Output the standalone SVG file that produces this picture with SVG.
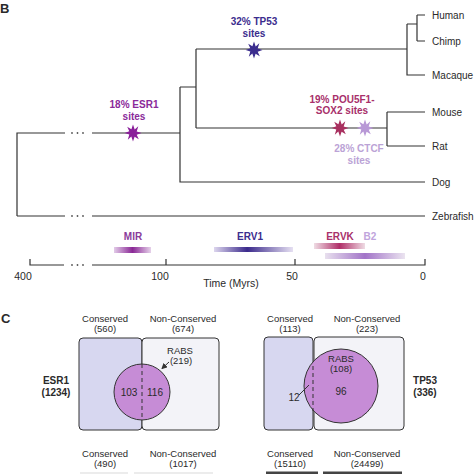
<svg xmlns="http://www.w3.org/2000/svg" width="474" height="474" viewBox="0 0 474 474">
<style>
text{font-family:"Liberation Sans",Arial,sans-serif;font-size:10px;fill:#2a2a2a}
.b{font-weight:bold}
.c{text-anchor:middle}
.s{font-size:9.5px}
.ln{stroke:#333;stroke-width:1.2;fill:none}
.dot{fill:#555}
.box{stroke:#333;stroke-width:1}
</style>
<defs>
<polygon id="star" points="0,-8.5 1.7,-3.6 5.3,-6.8 3.7,-1.6 8.5,0 3.7,1.7 5.8,6.2 1.6,3.7 0,8.5 -1.7,3.6 -5.2,6.8 -3.7,1.6 -8.3,0 -3.7,-1.7 -5.8,-6.2 -1.6,-3.7"/>
<linearGradient id="gMIR"><stop offset="0" stop-color="#e2cbe8"/><stop offset="0.5" stop-color="#8a2896"/><stop offset="1" stop-color="#e6d2ea"/></linearGradient>
<linearGradient id="gERV1"><stop offset="0" stop-color="#ddd6ee"/><stop offset="0.42" stop-color="#3b2a8c"/><stop offset="1" stop-color="#e6e0f2"/></linearGradient>
<linearGradient id="gERVK"><stop offset="0" stop-color="#efdce4"/><stop offset="0.5" stop-color="#b02f68"/><stop offset="1" stop-color="#efdce4"/></linearGradient>
<linearGradient id="gB2"><stop offset="0" stop-color="#e8e0ee"/><stop offset="0.5" stop-color="#a274c8"/><stop offset="1" stop-color="#ebe4f0"/></linearGradient>
<marker id="ah" markerWidth="6" markerHeight="6" refX="5" refY="3" orient="auto" markerUnits="userSpaceOnUse"><path d="M0,0 L6,3 L0,6 z" fill="#333"/></marker>
</defs>

<text x="0" y="13" class="b" style="font-size:13px">B</text>

<g id="connectors">
<path class="ln" d="M17,216 V133 H65 M92,133 H180 M180,87 V182 H425 M180,87 H196 M196,49 V128 M196,49 H407 M407,24 V75 H425 M407,24 H417 M417,15 V41 M417,15 H425 M417,41 H425 M196,128 H387 M387,112 V146 M387,112 H425 M387,146 H425 M17,216 H65 M92,216 H425"/>
</g>
<g id="dots-root"><circle class="dot" cx="72" cy="133" r="0.9"/><circle class="dot" cx="77.5" cy="133" r="0.9"/><circle class="dot" cx="83" cy="133" r="0.9"/></g>
<g id="dots-zebra"><circle class="dot" cx="72" cy="216" r="0.9"/><circle class="dot" cx="77.5" cy="216" r="0.9"/><circle class="dot" cx="83" cy="216" r="0.9"/></g>

<g id="species">
<text x="432" y="19">Human</text>
<text x="432" y="45">Chimp</text>
<text x="432" y="79">Macaque</text>
<text x="432" y="116">Mouse</text>
<text x="432" y="150">Rat</text>
<text x="432" y="186">Dog</text>
<text x="432" y="220">Zebrafish</text>
</g>

<g id="esr1-star"><use href="#star" x="133" y="133" fill="#8a1f9a"/>
<text x="134" y="108" class="b c" style="fill:#8a2a9a">18% ESR1</text><text x="134" y="120" class="b c" style="fill:#8a2a9a">sites</text></g>
<g id="tp53-star"><use href="#star" x="254" y="50" fill="#3b2d8e"/>
<text x="254" y="25" class="b c" style="fill:#3b2d8e">32% TP53</text><text x="254" y="37" class="b c" style="fill:#3b2d8e">sites</text></g>
<g id="pou-star"><use href="#star" x="340" y="128" fill="#a8305f"/>
<text x="342" y="103" class="b c" style="fill:#a8306a">19% POU5F1-</text><text x="342" y="114" class="b c" style="fill:#a8306a">SOX2 sites</text></g>
<g id="ctcf-star"><use href="#star" x="365" y="128" fill="#b898d6"/>
<text x="359" y="152" class="b c" style="fill:#bba3d6">28% CTCF</text><text x="359" y="164" class="b c" style="fill:#bba3d6">sites</text></g>

<g id="repeats">
<rect x="114" y="247" width="37" height="6" fill="url(#gMIR)"/>
<text x="133" y="240" class="b c" style="fill:#8a3a9a">MIR</text>
<rect x="214" y="247" width="79" height="5" fill="url(#gERV1)"/>
<text x="250" y="240" class="b c" style="fill:#3b2d8e">ERV1</text>
<rect x="314" y="243" width="51" height="6" fill="url(#gERVK)"/>
<text x="340" y="240" class="b c" style="fill:#a8306a">ERVK</text>
<rect x="325" y="253" width="80" height="6" fill="url(#gB2)"/>
<text x="370" y="240" class="b c" style="fill:#c0a4dc">B2</text>
</g>

<g id="axis">
<path class="ln" d="M30,259 V265 H64 M92,265 H425 V259 M166,265 V259 M295,265 V259"/>
<circle class="dot" cx="72" cy="265" r="0.9"/><circle class="dot" cx="77.5" cy="265" r="0.9"/><circle class="dot" cx="83" cy="265" r="0.9"/>
<text x="23" y="280" class="c" style="font-size:10.5px">400</text>
<text x="160" y="280" class="c" style="font-size:10.5px">100</text>
<text x="292" y="280" class="c" style="font-size:10.5px">50</text>
<text x="423" y="280" class="c" style="font-size:10.5px">0</text>
<text x="231" y="287" class="c" style="font-size:10.5px">Time (Myrs)</text>
</g>

<text x="1" y="323" class="b" style="font-size:13px">C</text>

<g id="venn-esr1">
<rect class="box" x="79" y="338" width="63" height="92" rx="4" fill="#d7d7f0"/>
<rect class="box" x="142" y="338" width="77" height="92" rx="4" fill="#f3f3f8"/>
<circle cx="142" cy="392" r="28" fill="#c68cd6" stroke="#333" stroke-width="1"/>
<line x1="142" y1="364" x2="142" y2="420" stroke="#333" stroke-width="1" stroke-dasharray="4 3"/>
<text x="129" y="396" class="c">103</text>
<text x="155" y="396" class="c">116</text>
<text x="180" y="354" class="c s">RABS</text>
<text x="181" y="364" class="c s">(219)</text>
<line x1="169" y1="362" x2="162" y2="368.5" stroke="#333" stroke-width="1" marker-end="url(#ah)"/>
<text x="105" y="322" class="c s">Conserved</text><text x="105" y="332" class="c s">(560)</text>
<text x="183" y="322" class="c s">Non-Conserved</text><text x="183" y="332" class="c s">(674)</text>
<text x="56" y="384" class="b c">ESR1</text><text x="56" y="396" class="b c">(1234)</text>
</g>

<g id="venn-tp53">
<rect class="box" x="264" y="337" width="49" height="93" rx="4" fill="#d7d7f0"/>
<rect class="box" x="314" y="337" width="90" height="93" rx="4" fill="#f3f3f8"/>
<circle cx="341" cy="386" r="37" fill="#c68cd6" stroke="#333" stroke-width="1"/>
<line x1="313" y1="366" x2="313" y2="411" stroke="#333" stroke-width="1" stroke-dasharray="4 3"/>
<text x="341" y="362" class="c s">RABS</text>
<text x="341" y="372" class="c s">(108)</text>
<text x="341" y="395" class="c">96</text>
<text x="294" y="401" class="c">12</text>
<line x1="299" y1="395" x2="309" y2="385" stroke="#333" stroke-width="1"/>
<text x="290" y="322" class="c s">Conserved</text><text x="290" y="332" class="c s">(113)</text>
<text x="367" y="322" class="c s">Non-Conserved</text><text x="367" y="332" class="c s">(223)</text>
<text x="425" y="384" class="b c">TP53</text><text x="425" y="396" class="b c">(336)</text>
</g>

<g id="bottom-esr1">
<text x="105" y="457" class="c s">Conserved</text><text x="105" y="467" class="c s">(490)</text>
<text x="183" y="457" class="c s">Non-Conserved</text><text x="183" y="467" class="c s">(1017)</text>
<rect x="80" y="472" width="48" height="2" fill="#ececec"/>
<rect x="134" y="472" width="79" height="2" fill="#ececec"/>
</g>
<g id="bottom-tp53">
<text x="290" y="457" class="c s">Conserved</text><text x="290" y="467" class="c s">(15110)</text>
<text x="367" y="457" class="c s">Non-Conserved</text><text x="367" y="467" class="c s">(24499)</text>
<rect x="266" y="471.5" width="52" height="2.5" fill="#444"/>
<rect x="323" y="471.5" width="79" height="2.5" fill="#444"/>
</g>
</svg>
